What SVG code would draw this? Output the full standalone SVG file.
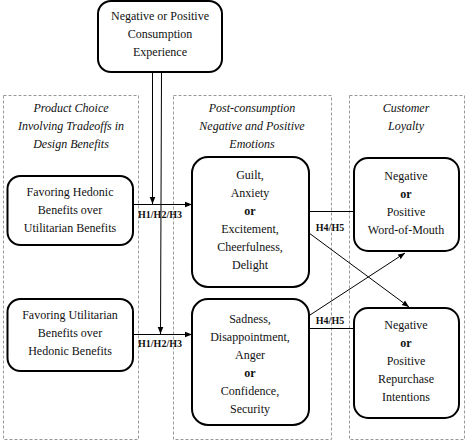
<svg xmlns="http://www.w3.org/2000/svg" width="474" height="442" viewBox="0 0 474 442">
<defs>
<marker id="arr" viewBox="0 0 10 10" refX="10" refY="5" markerWidth="7" markerHeight="7" markerUnits="userSpaceOnUse" orient="auto">
<path d="M0,1 L10,5 L0,9 Z" fill="#000"/>
</marker>
<style>
text{font-family:"Liberation Serif","Times New Roman",serif;font-size:12px;fill:#111;text-anchor:middle}
.b{font-weight:bold}
.h{font-weight:bold;font-size:10px}
.i{font-style:italic}
.node{fill:#fff;stroke:#000;stroke-width:2}
.grp{fill:none;stroke:#999;stroke-width:1;stroke-dasharray:3,2}
.c{fill:none;stroke:#000;stroke-width:1}
</style>
</defs>
<rect width="474" height="442" fill="#fff"/>
<g id="group-choice">
<rect class="grp" x="3.5" y="95.5" width="135" height="344"/>
<text class="i" x="71" y="112">Product Choice</text>
<text class="i" x="71" y="130">Involving Tradeoffs in</text>
<text class="i" x="71" y="148">Design Benefits</text>
</g>
<g id="group-emotions">
<rect class="grp" x="173.5" y="95.5" width="158" height="344"/>
<text class="i" x="252" y="112">Post-consumption</text>
<text class="i" x="252" y="130">Negative and Positive</text>
<text class="i" x="252" y="148">Emotions</text>
</g>
<g id="group-loyalty">
<rect class="grp" x="349.5" y="95.5" width="115" height="344"/>
<text class="i" x="406" y="112">Customer</text>
<text class="i" x="406" y="130">Loyalty</text>
</g>
<g id="connectors">
<line class="c" x1="152.5" y1="72" x2="152.5" y2="204" marker-end="url(#arr)"/>
<line class="c" x1="161.5" y1="72" x2="160.5" y2="334" marker-end="url(#arr)"/>
<line class="c" x1="133" y1="204.5" x2="192" y2="204.5" marker-end="url(#arr)"/>
<line class="c" x1="133" y1="334.5" x2="192" y2="334.5" marker-end="url(#arr)"/>
<line class="c" x1="309" y1="211.5" x2="354" y2="211.5"/>
<line class="c" x1="309" y1="328.5" x2="354" y2="328.5"/>
<line class="c" x1="309" y1="233" x2="409" y2="307" marker-end="url(#arr)"/>
<line class="c" x1="310" y1="315" x2="405" y2="253" marker-end="url(#arr)"/>
<text class="h" x="160" y="218">H1/H2/H3</text>
<text class="h" x="160" y="347">H1/H2/H3</text>
<text class="h" x="330" y="231">H4/H5</text>
<text class="h" x="330" y="324">H4/H5</text>
</g>
<g id="node-experience">
<rect class="node" x="98" y="1" width="124" height="71" rx="13"/>
<text x="160" y="20">Negative or Positive</text>
<text x="160" y="38">Consumption</text>
<text x="160" y="56">Experience</text>
</g>
<g id="node-hedonic">
<rect class="node" x="7.5" y="176" width="125.5" height="69" rx="13"/>
<text x="70" y="196">Favoring Hedonic</text>
<text x="70" y="214">Benefits over</text>
<text x="70" y="232">Utilitarian Benefits</text>
</g>
<g id="node-utilitarian">
<rect class="node" x="7.5" y="299" width="125.5" height="72" rx="13"/>
<text x="70" y="319">Favoring Utilitarian</text>
<text x="70" y="337">Benefits over</text>
<text x="70" y="355">Hedonic Benefits</text>
</g>
<g id="node-emotions1">
<rect class="node" x="192" y="157" width="117" height="130" rx="16"/>
<text x="250" y="179">Guilt,</text>
<text x="250" y="197">Anxiety</text>
<text class="b" x="250" y="215">or</text>
<text x="250" y="233">Excitement,</text>
<text x="250" y="251">Cheerfulness,</text>
<text x="250" y="269">Delight</text>
</g>
<g id="node-emotions2">
<rect class="node" x="192" y="299" width="117" height="126" rx="16"/>
<text x="250" y="323">Sadness,</text>
<text x="250" y="341">Disappointment,</text>
<text x="250" y="359">Anger</text>
<text class="b" x="250" y="377">or</text>
<text x="250" y="395">Confidence,</text>
<text x="250" y="413">Security</text>
</g>
<g id="node-wom">
<rect class="node" x="354" y="158" width="105" height="93" rx="14"/>
<text x="406" y="180">Negative</text>
<text class="b" x="406" y="198">or</text>
<text x="406" y="216">Positive</text>
<text x="406" y="234">Word-of-Mouth</text>
</g>
<g id="node-repurchase">
<rect class="node" x="354" y="308" width="105" height="110" rx="14"/>
<text x="406" y="329">Negative</text>
<text class="b" x="406" y="347">or</text>
<text x="406" y="365">Positive</text>
<text x="406" y="383">Repurchase</text>
<text x="406" y="401">Intentions</text>
</g>
</svg>
